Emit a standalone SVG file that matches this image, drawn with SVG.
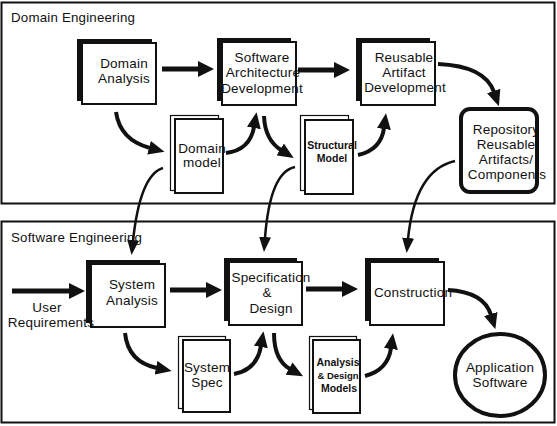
<svg xmlns="http://www.w3.org/2000/svg" width="557" height="426" viewBox="0 0 557 426">
<style>
.panel{fill:none;stroke:#111;stroke-width:2}
.sh{fill:#111}
.box{fill:#fff;stroke:#111;stroke-width:2}
.pg{fill:#fff;stroke:#111;stroke-width:1.2}
.pgf{fill:#fff;stroke:#111;stroke-width:2}
.rep{fill:#fff;stroke:#111;stroke-width:4}
text{font-family:"Liberation Sans",Arial,sans-serif;font-size:13.5px;fill:#111;text-anchor:middle;letter-spacing:0.2px}
.title{text-anchor:start;font-size:13.3px}
.sm{font-size:10.5px;font-weight:bold;letter-spacing:0}
.st{fill:none;stroke:#111;stroke-width:5}
.ct{fill:none;stroke:#111;stroke-width:4}
.cn{fill:none;stroke:#111;stroke-width:2.5}
</style>
<defs>
<marker id="big" markerUnits="userSpaceOnUse" viewBox="0 -8 16 16" refX="1" refY="0" markerWidth="16" markerHeight="16" orient="auto"><path d="M0,-8 L16,0 L0,8 z" fill="#111"/></marker>
<marker id="med" markerUnits="userSpaceOnUse" viewBox="0 -7 16 14" refX="1" refY="0" markerWidth="16" markerHeight="14" orient="auto"><path d="M0,-7 L16,0 L0,7 z" fill="#111"/></marker>
<marker id="thin" markerUnits="userSpaceOnUse" viewBox="0 -6 15 12" refX="1" refY="0" markerWidth="15" markerHeight="12" orient="auto"><path d="M0,-6 L15,0 L0,6 z" fill="#111"/></marker>
</defs>
<rect width="557" height="426" fill="#fff"/>
<g id="domain-engineering">
<rect class="panel" x="1.5" y="2.5" width="553" height="201"/>
<text class="title" x="11" y="22">Domain Engineering</text>
</g>
<g id="software-engineering">
<rect class="panel" x="1.5" y="221.5" width="553" height="201"/>
<text class="title" x="11" y="242">Software Engineering</text>
</g>
<g id="domain-analysis">
<rect class="sh" x="77" y="39" width="75" height="62"/>
<rect class="box" x="82" y="43" width="74" height="61"/>
<text x="124" y="68">Domain</text><text x="124" y="83">Analysis</text>
</g>
<g id="software-architecture-development">
<rect class="sh" x="217" y="38" width="74" height="63"/>
<rect class="box" x="222" y="42" width="74" height="63"/>
<text x="262" y="62">Software</text><text x="263" y="77">Architecture</text><text x="262" y="93">Development</text>
</g>
<g id="reusable-artifact-development">
<rect class="sh" x="356" y="38" width="74" height="63"/>
<rect class="box" x="361" y="42" width="74" height="63"/>
<text x="404" y="62">Reusable</text><text x="404" y="77">Artifact</text><text x="405" y="92">Development</text>
</g>
<g id="repository">
<rect class="rep" x="461" y="109" width="76" height="83" rx="9"/>
<text x="506" y="134">Repository</text><text x="506" y="149">Reusable</text><text x="506" y="164">Artifacts/</text><text x="507" y="179">Components</text>
</g>
<g id="domain-model">
<rect class="pg" x="170.5" y="115.5" width="48" height="75"/>
<rect class="pgf" x="175" y="119" width="48" height="74"/>
<text x="202" y="153">Domain</text><text x="202" y="167">model</text>
</g>
<g id="structural-model">
<rect class="pg" x="300.5" y="115.5" width="48" height="75"/>
<rect class="pgf" x="305" y="120" width="48" height="74"/>
<text class="sm" x="332" y="149">Structural</text><text class="sm" x="332" y="162">Model</text>
</g>
<g id="system-analysis">
<rect class="sh" x="86" y="260" width="74" height="63"/>
<rect class="box" x="91" y="264" width="74" height="63"/>
<text x="132" y="289">System</text><text x="132" y="305">Analysis</text>
</g>
<g id="specification-design">
<rect class="sh" x="224" y="258" width="73" height="63"/>
<rect class="box" x="229" y="262" width="73" height="63"/>
<text x="271" y="282">Specification</text><text x="267" y="297">&amp;</text><text x="271" y="313">Design</text>
</g>
<g id="construction">
<rect class="sh" x="365" y="258" width="74" height="63"/>
<rect class="box" x="370" y="262" width="74" height="63"/>
<text x="413" y="297">Construction</text>
</g>
<g id="application-software">
<ellipse cx="500" cy="375" rx="45" ry="41" fill="#fff" stroke="#111" stroke-width="4"/>
<text x="500" y="372">Application</text><text x="500" y="387">Software</text>
</g>
<g id="system-spec">
<rect class="pg" x="178.5" y="336.5" width="47" height="72"/>
<rect class="pgf" x="183" y="340" width="47" height="72"/>
<text x="207" y="372">System</text><text x="207" y="387">Spec</text>
</g>
<g id="analysis-design-models">
<rect class="pg" x="309.5" y="336.5" width="47" height="73"/>
<rect class="pgf" x="313" y="340" width="47" height="73"/>
<text class="sm" x="338" y="366">Analysis</text><text class="sm" x="338" y="379" style="font-size:9.5px">&amp; Design</text><text class="sm" x="339" y="392">Models</text>
</g>
<g id="user-requirements">
<text x="47" y="312">User</text><text x="51" y="327">Requirements</text>
</g>
<g id="connectors">
<path class="st" d="M162,69 H199" marker-end="url(#big)"/>
<path class="st" d="M298,70 H335" marker-end="url(#big)"/>
<path class="st" d="M12,291 H70" marker-end="url(#big)"/>
<path class="st" d="M170,290 H207" marker-end="url(#big)"/>
<path class="st" d="M306,289 H343" marker-end="url(#big)"/>
<path class="ct" d="M438,64 Q485,66 494,92" marker-end="url(#med)"/>
<path class="ct" d="M116,112 Q120,140 150,148" marker-end="url(#med)"/>
<path class="ct" d="M226,153 Q250,150 254,127" marker-end="url(#med)"/>
<path class="ct" d="M264,116 Q265,140 281,150" marker-end="url(#med)"/>
<path class="ct" d="M358,155 Q381,150 384,128" marker-end="url(#med)"/>
<path class="ct" d="M125,333 Q128,362 157,368" marker-end="url(#med)"/>
<path class="ct" d="M234,374 Q257,370 261,346" marker-end="url(#med)"/>
<path class="ct" d="M274,333 Q274,360 290,369" marker-end="url(#med)"/>
<path class="ct" d="M365,376 Q388,370 391,348" marker-end="url(#med)"/>
<path class="ct" d="M448,290 Q484,292 491,315" marker-end="url(#med)"/>
<path class="cn" d="M163,168 Q140,175 133,241" marker-end="url(#thin)"/>
<path class="cn" d="M295,167 Q270,172 265,238" marker-end="url(#thin)"/>
<path class="cn" d="M455,161 Q415,170 408,239" marker-end="url(#thin)"/>
</g>
</svg>
